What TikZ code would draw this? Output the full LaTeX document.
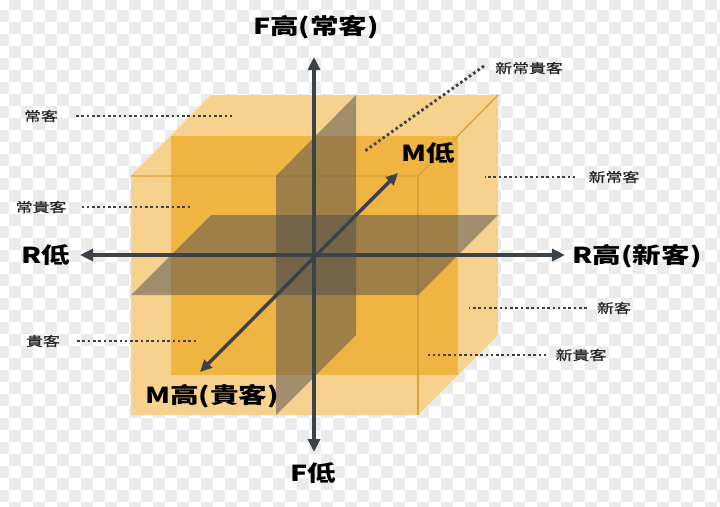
\documentclass[tikz,border=0pt]{standalone}
\usepackage{fontspec}
\usetikzlibrary{arrows.meta}
\newfontfamily\cjkfont{Noto Sans CJK TC}[FakeStretch=1.3]
\newfontfamily\cjksmall{Noto Sans CJK TC}[FakeStretch=1.3, FakeBold=0.8]

\definecolor{checkgray}{HTML}{EBEBEB}
\definecolor{cubelight}{HTML}{F7D28F}
\definecolor{cubedark}{HTML}{F0B443}
\definecolor{cubeedge}{HTML}{DBA03A}
\definecolor{planegray}{HTML}{4C4C4C}
\definecolor{axisgray}{HTML}{3B4349}
\definecolor{leadgray}{HTML}{404040}

\tikzset{
  axislabel/.style={font=\cjkfont\bfseries\fontsize{22}{22}\selectfont, inner sep=0pt},
  seglabel/.style={font=\cjksmall\fontsize{13}{13}\selectfont, text=black!85, inner sep=0pt},
  axis/.style={draw=axisgray, line width=4.5pt, -{Triangle[length=13pt,width=12pt]}},
  leader/.style={draw=leadgray, line width=2.8pt, dash pattern=on 2.6pt off 2.7pt},
  plane/.style={fill=planegray, fill opacity=0.5}
}

\begin{document}
\begin{tikzpicture}[x=1pt,y=-1pt]
\useasboundingbox (0,0) rectangle (720,506);

% background checks
\fill[white] (0,0) rectangle (720,506);
\foreach \j in {0,...,42} {
  \pgfmathtruncatemacro\ia{mod(\j+1,2)}
  \pgfmathtruncatemacro\ib{\ia+2}
  \foreach \i in {\ia,\ib,...,60}
    \fill[checkgray] (-3+12*\i,-2+12*\j) rectangle ++(12,12);
}

% cube
\fill[cubelight] (131,176) -- (211,95) -- (498,95) -- (498,335) -- (418,415) -- (131,415) -- cycle;
\fill[cubedark] (171,136) rectangle (458,375);
\draw[cubeedge, line width=1.3pt] (131,176) -- (418,176) -- (498,95);
\draw[cubeedge, line width=1.3pt] (418,176) -- (418,415);

% planes
\fill[plane] (131,295) -- (418,295) -- (498,215) -- (211,215) -- cycle;
\fill[plane] (276,176) -- (356,95) -- (356,335) -- (276,415) -- cycle;

% axes
\coordinate (o) at (314,255);
\coordinate (ftop) at (314,57);
\coordinate (fbot) at (314,452);
\coordinate (rleft) at (80,255);
\coordinate (rright) at (565,255);
\coordinate (mfront) at (200,372);
\coordinate (mback) at (398,173);

\draw[axis] (o) -- (ftop);
\draw[axis] (o) -- (fbot);
\draw[axis] (o) -- (rleft);
\draw[axis] (o) -- (rright);
\draw[axis, line width=3.5pt, {Triangle[length=12pt,width=11pt]}-{Triangle[length=12pt,width=11pt]}] (mfront) -- (mback);

\node[axislabel] (fhigh) at (316,27) {F高(常客)};
\node[axislabel] (flow) at (313,473) {F低};
\node[axislabel] (rlow) at (46,255) {R低};
\node[axislabel] (rhigh) at (637,256) {R高(新客)};
\node[axislabel] (mlow) at (428,153) {M低};
\node[axislabel] (mhigh) at (212,396) {M高(貴客)};

% segments
\node[seglabel] (freq) at (41,116) {常客};
\node[seglabel] (freqmon) at (41,207) {常貴客};
\node[seglabel] (mon) at (43,341) {貴客};
\node[seglabel] (newfreqmon) at (529,68) {新常貴客};
\node[seglabel] (newfreq) at (614,177) {新常客};
\node[seglabel] (new) at (614,308) {新客};
\node[seglabel] (newmon) at (581,355) {新貴客};

\coordinate (dfreq) at (233,116);
\coordinate (dfreqmon) at (192,207);
\coordinate (dmon) at (197,341);
\coordinate (dnewfreqmon) at (365,151);
\coordinate (dnewfreq) at (485,177);
\coordinate (dnew) at (469,308);
\coordinate (dnewmon) at (428,355);

\draw[leader] ([xshift=18pt]freq.east) -- (dfreq);
\draw[leader] ([xshift=15pt]freqmon.east) -- (dfreqmon);
\draw[leader] ([xshift=17pt]mon.east) -- (dmon);
\draw[leader] ([xshift=-11pt,yshift=2pt]newfreqmon.west) -- (dnewfreqmon);
\draw[leader] ([xshift=-13pt]newfreq.west) -- (dnewfreq);
\draw[leader] ([xshift=-10pt]new.west) -- (dnew);
\draw[leader] ([xshift=-9pt]newmon.west) -- (dnewmon);
\end{tikzpicture}
\end{document}
